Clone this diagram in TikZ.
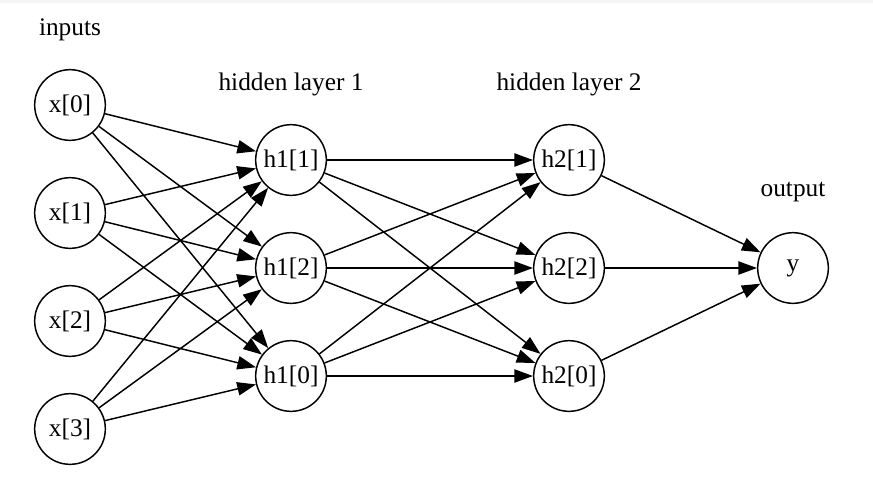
\documentclass[tikz,border=0pt]{standalone}
\usepackage{fontspec}
\setmainfont{Liberation Serif}
\usetikzlibrary{arrows.meta}
\begin{document}
\begin{tikzpicture}[x=0.75pt,y=-0.75pt]
\tikzset{
    neuron/.style={draw,circle,line width=1.1pt,minimum size=53pt,inner sep=0pt,font=\fontsize{19}{22}\selectfont},
    conn/.style={line width=1.1pt,-{Triangle[length=14pt,width=10pt]}},
    layertitle/.style={font=\fontsize{19}{22}\selectfont}
}
\useasboundingbox (0,0) rectangle (873,501);
\fill[gray!8] (0,0) rectangle (873,3);

% input layer
\node[neuron] (x0) at (70,105) {x[0]};
\node[neuron] (x1) at (70,213) {x[1]};
\node[neuron] (x2) at (70,321) {x[2]};
\node[neuron] (x3) at (70,429) {x[3]};

% hidden layers
\node[neuron] (h11) at (291,160) {h1[1]};
\node[neuron] (h12) at (291,268) {h1[2]};
\node[neuron] (h10) at (291,376) {h1[0]};
\node[neuron] (h21) at (569,160) {h2[1]};
\node[neuron] (h22) at (569,268) {h2[2]};
\node[neuron] (h20) at (569,376) {h2[0]};

% output
\node[neuron] (y) at (793,268) {y};

\node[layertitle] (tin) at (70,30) {inputs};
\node[layertitle] (th1) at (291,84) {hidden layer 1};
\node[layertitle] (th2) at (569,84) {hidden layer 2};
\node[layertitle] (tout) at (793,192) {output};

\foreach \i in {x0,x1,x2,x3}
    \foreach \j in {h11,h12,h10}
        \draw[conn] (\i) -- (\j);
\foreach \i in {h11,h12,h10}
    \foreach \j in {h21,h22,h20}
        \draw[conn] (\i) -- (\j);
\foreach \i in {h21,h22,h20}
    \draw[conn] (\i) -- (y);
\end{tikzpicture}
\end{document}
